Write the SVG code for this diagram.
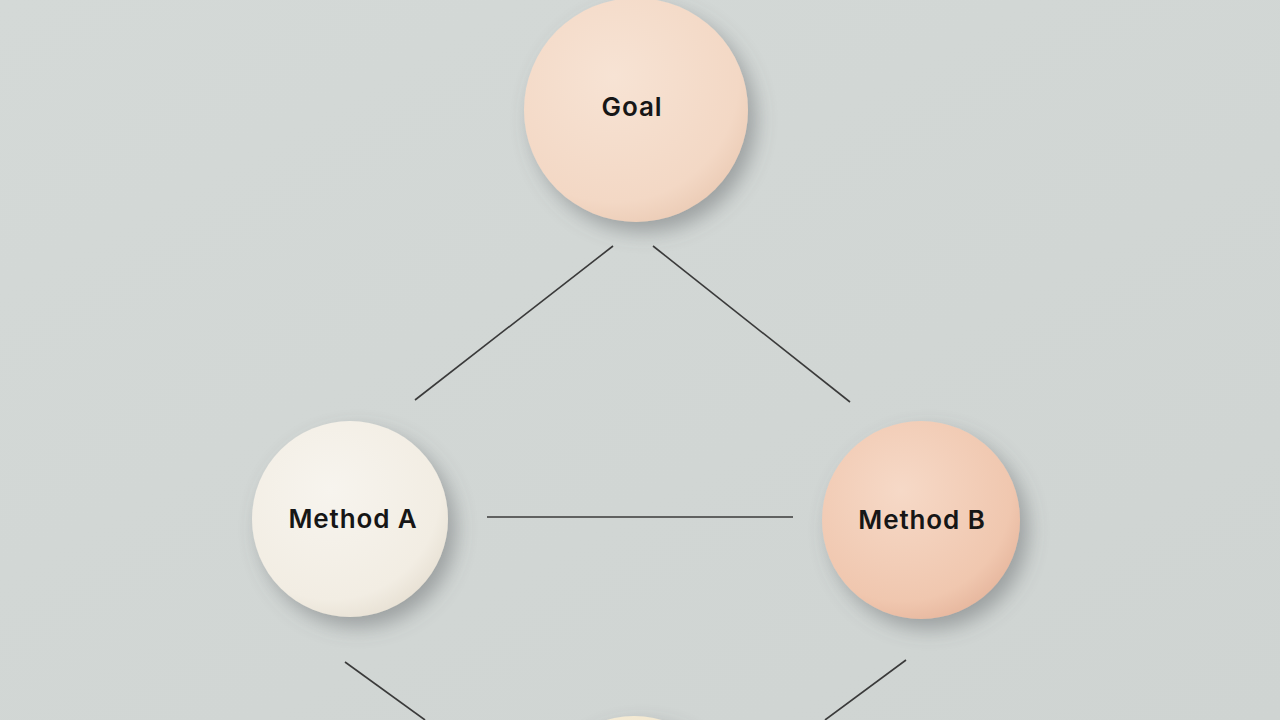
<svg xmlns="http://www.w3.org/2000/svg" width="1280" height="720" viewBox="0 0 1280 720">
<defs>
<style>
.lbl{font-family:Inter,"Liberation Sans",sans-serif;font-weight:600;font-size:26px;letter-spacing:0.9px;fill:#161616;text-anchor:middle}
.con{stroke:#3a3a3a;stroke-width:1.6;fill:none}
</style>
<linearGradient id="bg" x1="0" y1="0" x2="1" y2="1">
<stop offset="0" stop-color="#d4d9d7"/><stop offset="1" stop-color="#cfd4d2"/>
</linearGradient>
<radialGradient id="gGoal" cx="0.4" cy="0.35" r="0.7">
<stop offset="0" stop-color="#f7e3d4"/><stop offset="0.8" stop-color="#f3d8c5"/><stop offset="1" stop-color="#ebcbb5"/>
</radialGradient>
<radialGradient id="gA" cx="0.4" cy="0.35" r="0.7">
<stop offset="0" stop-color="#f7f4ee"/><stop offset="0.8" stop-color="#f2ede3"/><stop offset="1" stop-color="#e7e0d3"/>
</radialGradient>
<radialGradient id="gB" cx="0.4" cy="0.35" r="0.7">
<stop offset="0" stop-color="#f6d9c7"/><stop offset="0.8" stop-color="#f0c7af"/><stop offset="1" stop-color="#e6b69d"/>
</radialGradient>
<radialGradient id="gC" cx="0.4" cy="0.3" r="0.7">
<stop offset="0" stop-color="#f7efdc"/><stop offset="1" stop-color="#efe2c6"/>
</radialGradient>
<filter id="sh" x="-30%" y="-30%" width="170%" height="170%">
<feDropShadow dx="8" dy="10" stdDeviation="10" flood-color="#5a5f60" flood-opacity="0.45"/>
</filter>
</defs>
<rect width="1280" height="720" fill="url(#bg)"/>
<g id="connectors">
<line class="con" x1="613" y1="246" x2="415" y2="400"/>
<line class="con" x1="653" y1="246" x2="850" y2="402"/>
<line class="con" x1="487" y1="517" x2="793" y2="517"/>
<line class="con" x1="345" y1="662" x2="425" y2="720"/>
<line class="con" x1="906" y1="660" x2="825" y2="720"/>
</g>
<g id="goal">
<circle cx="636" cy="110" r="112" fill="url(#gGoal)" filter="url(#sh)"/>
<text class="lbl" x="632" y="116">Goal</text>
</g>
<g id="methodA">
<circle cx="350" cy="519" r="98" fill="url(#gA)" filter="url(#sh)"/>
<text class="lbl" x="353" y="528">Method A</text>
</g>
<g id="methodB">
<circle cx="921" cy="520" r="99" fill="url(#gB)" filter="url(#sh)"/>
<text class="lbl" x="922" y="529">Method B</text>
</g>
<g id="bottom">
<circle cx="634" cy="816" r="100" fill="url(#gC)" filter="url(#sh)"/>
</g>
</svg>
